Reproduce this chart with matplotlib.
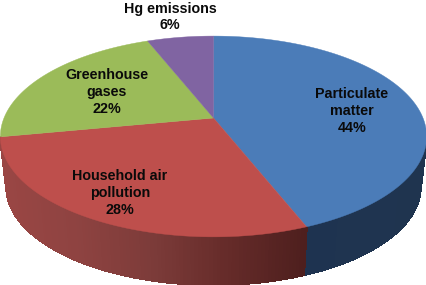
import numpy as np
import matplotlib
matplotlib.use('Agg')
import matplotlib.pyplot as plt
from matplotlib.collections import PolyCollection
from matplotlib.colors import LinearSegmentedColormap

plt.rcParams['font.family'] = ['Liberation Sans', 'DejaVu Sans']

# data
names = ['Particulate\nmatter', 'Household air\npollution', 'Greenhouse\ngases', 'Hg emissions']
values = [44, 28, 22, 6]
top_colors = ['#4B7CB8', '#BE4F4C', '#9BBB59', '#8064A2']

# label centres in pixels
label_x = [352, 120, 107, 170]
label_y = [111, 193, 92, 17]

# dark side of each slice, left to right
side_cmaps = [
    LinearSegmentedColormap.from_list('b', ['#1E3350', '#1F3450', '#1F344F']),
    LinearSegmentedColormap.from_list('r', ['#9A4644', '#8E4341', '#7C3B39', '#652B29', '#4E1F1E']),
    LinearSegmentedColormap.from_list('g', ['#6F8A3E', '#6F8A3E']),
    LinearSegmentedColormap.from_list('p', ['#5A4675', '#5A4675']),
]

k = 0.184  # perspective


def project(theta, cx, cy, sx, sy):
    # theta is clockwise from 12 o'clock, on the tilted disc
    u = np.sin(theta)
    v = np.cos(theta)
    d = 1 + k * v
    return cx + sx * u / d, cy - sy * v / d


top = (213.5, 118, 209.5, 97)
bottom = (213.5, 169, 203.5, 94.5)

fig = plt.figure(figsize=(4.27, 2.85), dpi=100)
ax = fig.add_axes([0, 0, 1, 1])
ax.set_xlim(0, 427)
ax.set_ylim(285, 0)
ax.axis('off')

edges = np.cumsum([0] + values) / sum(values) * 2 * np.pi

# side wall, thin strips along the front of the rim
for i in range(len(values)):
    th = np.linspace(edges[i], edges[i + 1], 120)
    xt, yt = project(th, *top)
    xb, yb = project(th, *bottom)
    polys = []
    xs = []
    for j in range(len(th) - 1):
        # only the part in front of the widest points shows
        if np.cos((th[j] + th[j + 1]) / 2) > -k:
            continue
        polys.append([(xt[j], yt[j]), (xt[j + 1], yt[j + 1]), (xb[j + 1], yb[j + 1]), (xb[j], yb[j])])
        xs.append(xt[j])
    if polys:
        xs = np.array(xs)
        t = (xs - xs.min()) / (xs.max() - xs.min())
        fc = side_cmaps[i](t)
        ax.add_collection(PolyCollection(polys, facecolors=fc, edgecolors=fc, linewidths=1.0, antialiaseds=False))

# top of the pie
for i in range(len(values)):
    th = np.linspace(edges[i], edges[i + 1], 200)
    x, y = project(th, *top)
    ax.fill(np.r_[top[0], x], np.r_[top[1], y], color=top_colors[i], lw=0.3)

for i in range(len(values)):
    ax.text(label_x[i], label_y[i], '%s\n%d%%' % (names[i], values[i]), ha='center', va='center',
            fontsize=10.3, fontweight='bold', color='#0A0A0A', linespacing=1.26)

fig.savefig('out.png', dpi=100)
